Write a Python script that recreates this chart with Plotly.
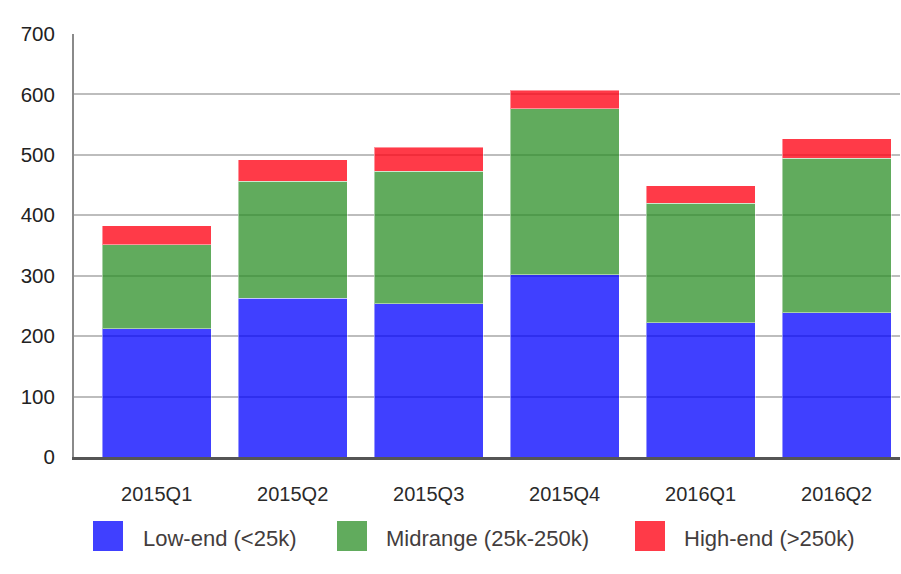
import plotly.graph_objects as go

quarters = ["2015Q1", "2015Q2", "2015Q3", "2015Q4", "2016Q1", "2016Q2"]
low_end = [212, 263, 254, 302, 222, 239]
midrange = [139, 193, 219, 274, 198, 255]
high_end = [32, 36, 40, 31, 29, 33]
series_names = ["Low-end (<25k)", "Midrange (25k-250k)", "High-end (>250k)"]
y_ticks = [0, 100, 200, 300, 400, 500, 600, 700]

colors = ["rgba(0,0,255,0.75)", "rgba(44,143,39,0.75)", "rgba(255,3,20,0.78)"]
legend_colors = ["#4040FF", "#61AB5D", "#FF3A48"]

W, H = 901, 574
ML, MR, MT, MB = 74, 1, 34, 117
PW, PH = W - ML - MR, H - MT - MB

def px_x(px):
    return (px - ML) / PW

def px_y(py):
    return (H - MB - py) / PH

fig = go.Figure()
for name, vals, col in zip(series_names, [low_end, midrange, high_end], colors):
    fig.add_trace(go.Bar(
        x=quarters, y=vals, name=name, width=0.8,
        marker=dict(color=col, line=dict(color="rgba(255,255,255,0.45)", width=1)),
        showlegend=False,
    ))

# custom legend (large square swatches)
legend_layout = [(93, 143), (337, 386), (635, 684)]
shapes = []
annotations = []
for (sx, tx), name, col in zip(legend_layout, series_names, legend_colors):
    shapes.append(dict(type="rect", xref="paper", yref="paper",
                       x0=px_x(sx), x1=px_x(sx + 30), y0=px_y(551), y1=px_y(521),
                       fillcolor=col, line=dict(width=0)))
    annotations.append(dict(xref="paper", yref="paper", x=px_x(tx - 2), y=px_y(538),
                            xanchor="left", yanchor="middle", showarrow=False,
                            text=name, font=dict(size=22, color="#433d3d",
                                                 family="Liberation Sans, Arial, sans-serif")))

fig.update_layout(
    width=W, height=H,
    margin=dict(l=ML, r=MR, t=MT, b=MB, pad=0),
    barmode="stack",
    plot_bgcolor="white", paper_bgcolor="white",
    font=dict(family="Liberation Sans, Arial, sans-serif", color="#222222"),
    shapes=shapes, annotations=annotations,
    xaxis=dict(
        type="category", range=[-0.608, 5.466],
        showgrid=False, showline=True, linecolor="#555555", linewidth=2.5,
        ticks="", ticklabelstandoff=17, tickfont=dict(size=20, color="#2a2a2a"),
        layer="above traces",
    ),
    yaxis=dict(
        range=[0, 700], tickvals=y_ticks, showgrid=True, gridcolor="#bdbdbd",
        gridwidth=1.5, zeroline=False, showline=True, linecolor="#8a8a8a",
        linewidth=2, ticks="", ticklabelstandoff=13,
        tickfont=dict(size=20.5, color="#222222"),
    ),
)

fig.write_html("out.html", config={"displayModeBar": False},
               post_script="document.body.style.margin='0';document.body.style.overflow='hidden';")
